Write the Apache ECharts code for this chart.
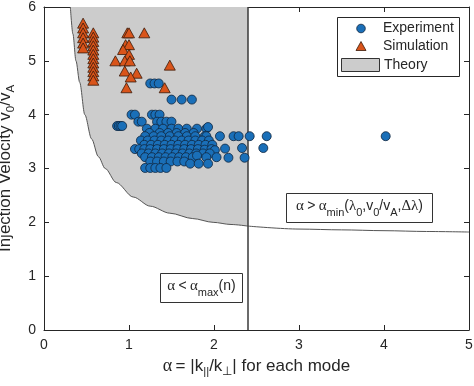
<!DOCTYPE html>
<html><head><meta charset="utf-8">
<script src="https://cdn.jsdelivr.net/npm/echarts@6/dist/echarts.min.js"></script>
<style>html,body{margin:0;padding:0;background:#fff}#c{width:474px;height:386px}</style>
</head><body><div id="c"></div>
<script>
// ---- data ----
const xTicks = [0, 1, 2, 3, 4, 5];
const yTicks = [0, 1, 2, 3, 4, 5, 6];
const alphaMax = 2.4;
// theory boundary curve (shaded part, up to alphaMax)
const curveX = [0.31, 0.34, 0.376, 0.42, 0.48, 0.56, 0.64, 0.72, 0.85, 1.05, 1.25, 1.48, 1.75, 1.99, 2.2, 2.4];
const curveY = [6.0, 5.5, 5.0, 4.6, 4.0, 3.55, 3.22, 3.0, 2.74, 2.47, 2.3, 2.17, 2.07, 2.0, 1.96, 1.93];
// continuation of the boundary beyond alphaMax
const tailX = [2.4, 3.0, 3.5, 4.0, 4.5, 5.0];
const tailY = [1.93, 1.875, 1.86, 1.845, 1.83, 1.82];
// simulation (triangles)
const simulation = [
  [0.46,5.70],[0.46,5.61],[0.46,5.52],[0.46,5.43],[0.46,5.33],[0.46,5.24],
  [0.58,5.52],[0.58,5.44],[0.58,5.36],[0.58,5.28],[0.58,5.20],[0.58,5.12],[0.58,5.04],
  [0.58,4.96],[0.58,4.88],[0.58,4.80],[0.58,4.72],[0.58,4.64],
  [0.98,5.52],[1.00,5.52],[1.18,5.52],[0.96,5.30],[1.00,5.30],[0.93,5.21],[1.00,5.12],
  [0.84,5.00],[0.95,5.00],[1.01,5.00],[1.48,4.92],[0.95,4.81],[1.09,4.77],[1.02,4.70],
  [0.97,4.50],[1.42,4.50]
];
// experiment (circles)
const experiment = [
  [1.25,4.58],[1.30,4.58],[1.35,4.58],
  [1.50,4.28],[1.62,4.28],[1.74,4.28],
  [1.03,4.00],[1.07,4.00],[1.27,4.00],[1.31,4.00],[1.36,4.00],
  [0.86,3.79],[0.88,3.79],[0.90,3.79],[0.92,3.79],
  [1.11,3.87],[1.15,3.87],[1.33,3.87],[1.38,3.87],[1.44,3.87],[1.50,3.87],
  [1.21,3.74],[1.31,3.74],[1.40,3.74],[1.50,3.74],[1.58,3.74],[1.68,3.74],[1.80,3.74],[1.91,3.74],[1.93,3.77],
  [1.24,3.66],[1.36,3.66],[1.46,3.66],[1.56,3.66],[1.66,3.66],[1.76,3.66],
  [1.19,3.60],[1.29,3.60],[1.38,3.60],[1.48,3.60],[1.58,3.60],[1.68,3.60],[1.78,3.60],[1.89,3.60],[1.91,3.60],
  [2.07,3.60],[2.23,3.60],[2.29,3.60],[2.42,3.60],[2.62,3.60],
  [1.14,3.52],[1.22,3.52],[1.30,3.52],[1.38,3.52],[1.46,3.52],[1.54,3.52],[1.62,3.52],[1.70,3.52],[1.78,3.52],[1.86,3.52],[1.94,3.52],
  [1.18,3.44],[1.26,3.44],[1.34,3.44],[1.42,3.44],[1.50,3.44],[1.58,3.44],[1.66,3.44],[1.74,3.44],[1.82,3.44],[1.90,3.44],[1.98,3.44],
  [1.07,3.36],[1.12,3.36],[1.18,3.36],[1.25,3.36],[1.33,3.36],[1.41,3.36],[1.49,3.36],[1.57,3.36],[1.65,3.36],[1.73,3.36],
  [1.81,3.36],[1.89,3.35],[1.97,3.36],[2.01,3.34],[2.13,3.37],[2.33,3.38],[2.58,3.38],
  [1.15,3.28],[1.23,3.28],[1.31,3.28],[1.39,3.28],[1.47,3.28],[1.55,3.28],[1.63,3.28],[1.71,3.28],[1.79,3.28],[1.87,3.28],[1.95,3.28],
  [1.19,3.21],[1.27,3.21],[1.35,3.21],[1.43,3.21],[1.51,3.21],[1.59,3.21],[1.67,3.21],[1.75,3.21],[1.80,3.24],[1.91,3.21],
  [2.03,3.21],[2.17,3.20],[2.36,3.20],
  [1.25,3.13],[1.33,3.13],[1.41,3.13],[1.49,3.13],[1.57,3.13],[1.65,3.13],[1.72,3.09],[1.82,3.09],[1.93,3.09],
  [1.19,3.01],[1.25,3.01],[1.31,3.01],[1.37,3.01],[1.44,3.01],
  [4.02,3.60]
];
const legendNames = ['Experiment', 'Simulation', 'Theory'];

// ---- styles ----
const SANS = "'Liberation Sans', Arial, sans-serif";
const SERIF = "'Liberation Serif', 'DejaVu Serif', serif";
const AX = '#262626';
const BLUE = '#1a6fb8', ORANGE = '#d9541a', GRAY = '#cccccc';

const sub = (fs) => ({ fontFamily: SANS, fontSize: fs, lineHeight: 10, verticalAlign: 'bottom', color: AX, fill: AX });
const main = (fs) => ({ fontFamily: SANS, fontSize: fs, lineHeight: 24, verticalAlign: 'middle', color: AX, fill: AX });
const greek = (fs) => ({ fontFamily: SERIF, fontSize: fs, lineHeight: 24, verticalAlign: 'middle', color: AX, fill: AX });

const chart = echarts.init(document.getElementById('c'), null, { renderer: 'canvas' });

function axisCommon(show) {
  return {
    min: xTicks[0], max: xTicks[xTicks.length - 1], interval: 1,
    axisLine: { show: true, onZero: false, lineStyle: { color: AX, width: 1 } },
    axisTick: { show: true, inside: true, length: 5, lineStyle: { color: AX } },
    splitLine: { show: false },
    axisLabel: { show: show, color: AX, fontSize: 14, fontFamily: SANS, margin: 8 }
  };
}

const option = {
  backgroundColor: '#fff',
  animation: false,
  grid: { left: 44, right: 5, top: 7, bottom: 56, containLabel: false, outerBoundsMode: 'none' },
  xAxis: [
    Object.assign(axisCommon(true), {
      type: 'value', position: 'bottom',
      name: '{a|α} {n|= |k}{s|||}{n|/k}{s|⊥}{n|| for each mode}',
      nameLocation: 'middle', nameGap: 23,
      nameTextStyle: { rich: { a: greek(18), n: main(17), s: sub(11.5) } }
    }),
    Object.assign(axisCommon(false), { type: 'value', position: 'top' })
  ],
  yAxis: [
    Object.assign(axisCommon(true), {
      type: 'value', position: 'left', min: yTicks[0], max: yTicks[yTicks.length - 1],
      name: '{n|Injection Velocity v}{s|0}{n|/v}{s|A}',
      nameLocation: 'middle', nameGap: 15,
      nameTextStyle: { rich: { n: main(17), s: sub(11.5) } }
    }),
    Object.assign(axisCommon(false), { type: 'value', position: 'right', min: yTicks[0], max: yTicks[yTicks.length - 1] })
  ],
  series: [
    {
      name: 'Theory', type: 'line', xAxisIndex: 0, yAxisIndex: 0,
      data: curveX.map((x, i) => [x, curveY[i]]),
      smooth: 0.3, smoothMonotone: 'x', showSymbol: false, symbol: 'none',
      lineStyle: { color: '#555', width: 1 },
      areaStyle: { origin: 'end', color: GRAY, opacity: 1 },
      z: 1
    },
    {
      name: 'tail', type: 'line', data: tailX.map((x, i) => [x, tailY[i]]),
      smooth: 0.3, smoothMonotone: 'x', showSymbol: false, symbol: 'none',
      lineStyle: { color: '#555', width: 1 }, z: 1
    },
    {
      name: 'alphaMax', type: 'line', data: [[alphaMax, yTicks[0]], [alphaMax, yTicks[yTicks.length - 1]]],
      showSymbol: false, symbol: 'none',
      lineStyle: { color: '#3a3a3a', width: 1.5 }, z: 2
    },
    {
      name: 'Experiment', type: 'scatter', data: experiment,
      symbol: 'circle', symbolSize: 9,
      itemStyle: { color: BLUE, borderColor: '#10263d', borderWidth: 0.8, opacity: 1 }, z: 3
    },
    {
      name: 'Simulation', type: 'scatter', data: simulation,
      symbol: 'triangle', symbolSize: [11, 10],
      itemStyle: { color: ORANGE, borderColor: '#3a1a0a', borderWidth: 0.8, opacity: 1 }, z: 4
    }
  ],
  graphic: [
    // legend
    { type: 'rect', z: 100, shape: { x: 337.5, y: 17.5, width: 122, height: 59 }, style: { fill: '#fff', stroke: AX, lineWidth: 1 } },
    { type: 'circle', z: 101, shape: { cx: 361, cy: 28.5, r: 4.3 }, style: { fill: BLUE, stroke: '#10263d', lineWidth: 0.8 } },
    { type: 'polygon', z: 101, shape: { points: [[361, 41.5], [366, 50.5], [356, 50.5]] }, style: { fill: ORANGE, stroke: '#3a1a0a', lineWidth: 0.8 } },
    { type: 'rect', z: 101, shape: { x: 341.5, y: 58.5, width: 38, height: 13 }, style: { fill: GRAY, stroke: '#333', lineWidth: 1 } },
    { type: 'text', z: 101, x: 383, y: 28.5, style: { text: legendNames[0], font: '14px ' + SANS, fill: AX, verticalAlign: 'middle' } },
    { type: 'text', z: 101, x: 383, y: 46.5, style: { text: legendNames[1], font: '14px ' + SANS, fill: AX, verticalAlign: 'middle' } },
    { type: 'text', z: 101, x: 384, y: 65.5, style: { text: legendNames[2], font: '14px ' + SANS, fill: AX, verticalAlign: 'middle' } },
    // annotation boxes
    { type: 'rect', z: 100, shape: { x: 286.5, y: 193.5, width: 146, height: 29 }, style: { fill: '#fff', stroke: '#333', lineWidth: 1 } },
    { type: 'text', z: 101, x: 359.5, y: 206, style: {
        text: '{a|α} {n|>} {a|α}{s|min}{n|(}{a|λ}{s|0}{n|,v}{s|0}{n|/v}{s|A}{n|,}{a|Δλ}{n|)}',
        align: 'center', verticalAlign: 'middle',
        rich: { a: greek(15), n: main(14), s: sub(11) } } },
    { type: 'rect', z: 100, shape: { x: 160.5, y: 273.5, width: 82, height: 29 }, style: { fill: '#fff', stroke: '#333', lineWidth: 1 } },
    { type: 'text', z: 101, x: 201.5, y: 286, style: {
        text: '{a|α} {n|<} {a|α}{s|max}{n|(n)}',
        align: 'center', verticalAlign: 'middle',
        rich: { a: greek(15), n: main(14), s: sub(11) } } }
  ]
};
chart.setOption(option);
</script>
</body></html>
